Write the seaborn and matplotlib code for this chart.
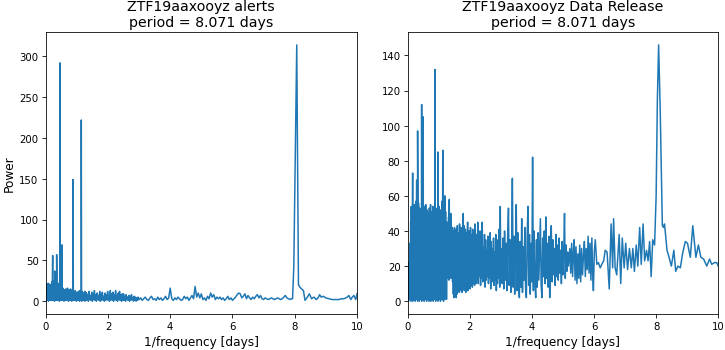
import numpy as np
import pandas as pd
import seaborn as sns
from matplotlib import pyplot as plt

# ---- ZTF19aaxooyz alerts periodogram ----
# dense noise, sampled evenly inside each span
alerts_span_a = (0.0, 1.29)
alerts_noise_a = [20, 2, 21, 1, 19, 3, 22, 0, 18, 2, 21, 1, 20, 4, 17, 1,
                  24, 2, 16, 1, 25, 3, 18, 0, 21, 2, 15, 1, 19, 3, 17, 1, 22, 2, 16, 0, 20, 3, 18, 1,
                  15, 2, 12, 1, 16, 3, 11, 0, 14, 2, 13, 1, 15, 2, 10, 1, 16, 3, 12, 0, 14, 2, 11, 1, 15, 2, 13, 0, 12, 3, 14, 1,
                  12, 2, 9, 1, 13, 2, 10, 0, 11, 3, 8, 1, 12, 2, 10, 0, 13, 1, 9, 2, 11, 0, 12, 3, 10, 1, 9, 2, 12, 0, 11, 1]
alerts_span_b = (1.31, 2.99)
alerts_noise_b = [10, 1, 8, 0, 12, 2, 7, 1, 11, 0, 9, 2, 13, 1, 8, 0, 10, 2, 7, 1, 12, 0, 9, 1, 11, 2, 6, 0, 10, 1, 8, 2,
                  12, 1, 7, 0, 13, 2, 9, 1, 11, 0, 8, 2, 13, 1, 7, 0, 10, 2, 12, 1, 8, 0, 9, 1,
                  9, 1, 6, 0, 8, 2, 5, 1, 7, 0, 6, 1, 8, 2, 4, 0, 6, 1, 5, 0, 4, 1, 5, 2]
alerts_span_c = (3.0, 7.9)
alerts_noise_c = [2, 4, 1, 3, 5, 2, 1, 4, 6, 2, 3, 1, 5, 2, 4, 1, 3, 6, 2,
                  4, 16, 3, 1, 4, 2, 5, 3, 1, 2, 6, 3, 5, 1, 4, 7, 3,
                  18, 5, 10, 4, 9, 2, 4, 1, 6, 3, 10, 5, 8, 2, 5,
                  3, 5, 2, 4, 1, 3, 6, 2, 4, 1, 3, 5, 8,
                  10, 9, 4, 6, 9, 3, 7, 4, 2, 5, 3, 6, 8, 4,
                  7, 3, 2, 4, 3, 2, 3, 4, 3, 2, 3, 4, 3, 2, 3, 5, 7, 4, 3, 2, 3]
alerts_peak_x = [0.225, 0.29, 0.353, 0.46, 0.524, 0.877, 1.144]
alerts_peak_y = [56, 37, 57, 292, 69, 149, 222]
alerts_tail_x = [7.93, 7.97, 8.065, 8.12, 8.17, 8.22, 8.28, 8.33, 8.39, 8.47, 8.54, 8.62, 8.69, 8.75,
                 8.80, 8.85, 8.92, 9.00, 9.10, 9.20, 9.31, 9.42, 9.50, 9.58, 9.69, 9.74, 9.80, 9.85,
                 9.90, 9.96, 10.0]
alerts_tail_y = [3, 42, 314, 20, 17, 15, 13, 1, 4, 9, 3, 5, 2, 4,
                 8, 5, 6, 4, 3, 2, 2, 2, 3, 3, 5, 7, 2, 5,
                 7, 2, 9]

# ---- ZTF19aaxooyz Data Release periodogram ----
release_span_a = (0.0, 1.25)
release_noise_a = [21, 3, 18, 0, 22, 5, 20, 1,
                   33, 2, 45, 0, 54, 1, 38, 3, 55, 0, 42, 2,
                   48, 1, 55, 4, 40, 0, 52, 2, 57, 1, 36, 3, 50, 0, 45, 2, 56, 1, 39, 0, 53, 3, 47, 1, 42, 2,
                   51, 0, 44, 2, 56, 1, 38, 3, 49, 0, 54, 2, 41, 1, 55, 4, 46, 0, 52, 2, 37, 1, 50, 3, 45, 0,
                   53, 2, 40, 1, 55, 0, 47, 3, 51, 1, 38, 2, 54, 0, 44, 4, 49, 1, 56, 2, 42, 0, 50, 3, 46, 1, 53, 2, 39, 0,
                   48, 3, 54, 1, 41, 2, 52, 0, 45, 4, 50, 2, 57, 1, 43, 3, 49, 0, 55, 2, 40, 1, 46, 3, 51, 2, 44, 1]
release_span_b = (1.27, 2.2)
release_noise_b = [45, 13, 40, 15, 48, 12, 38, 16, 44, 14, 50, 13, 39, 15, 42, 11,
                   40, 4, 36, 2, 42, 5, 38, 3, 41, 2, 37, 4, 43, 6,
                   39, 7, 35, 5, 44, 8, 37, 6, 42, 9, 33, 5, 40, 7, 38, 10, 43, 6, 36, 8, 41, 5, 34, 9, 39,
                   7, 45, 6, 37, 10, 40, 8, 35, 7, 42, 9, 38, 11, 33, 8, 41, 10, 36, 12, 39, 9, 44, 11, 35, 10]
release_span_c = (2.22, 3.0)
release_noise_c = [38, 12, 45, 10, 33, 14, 40, 9, 36, 13, 45, 11, 31, 15, 38, 8, 35, 12, 29, 14,
                   37, 10, 32, 13, 39, 7, 34, 11, 30, 15, 36, 9, 28, 12, 38, 6, 33, 10, 35, 13, 41, 8, 54, 11]
release_span_d = (3.02, 5.2)
release_noise_d = [30, 10, 36, 7, 40, 12, 33, 6, 38, 53, 9, 35, 5, 30, 70, 8, 37, 4, 32, 55,
                   6, 39, 10, 2, 34, 8, 47, 5, 31, 12, 42, 7, 2, 36, 54, 9, 38, 4, 33, 11,
                   82, 6, 40, 10, 2, 35, 8, 39, 12, 30, 47, 9, 2, 36, 14, 40, 10, 48, 13, 33,
                   8, 37, 2, 31, 43, 11, 35, 15, 30, 9, 38, 14, 32, 12, 36, 16, 29, 10, 34, 15,
                   28, 50, 13, 32, 17, 28, 20, 26]
release_peak_x = [0.16, 0.29, 0.32, 0.45, 0.50, 0.88, 0.97, 1.13, 1.20, 1.34, 1.79]
release_peak_y = [73, 69, 97, 112, 105, 132, 85, 86, 60, 58, 50]
release_tail_x = [5.22, 5.25, 5.28, 5.31, 5.34, 5.36, 5.39, 5.42, 5.45, 5.48, 5.51, 5.54, 5.57, 5.60,
                  5.63, 5.66, 5.69, 5.72, 5.75, 5.78, 5.81, 5.84, 5.87, 5.90, 5.93, 5.96, 5.98, 6.01,
                  6.04, 6.09, 6.14, 6.20, 6.25, 6.31, 6.36, 6.42, 6.49, 6.55, 6.60, 6.63, 6.68, 6.73,
                  6.81, 6.86, 6.91, 6.97, 7.02, 7.08, 7.14, 7.20, 7.25, 7.30, 7.36, 7.41, 7.47, 7.52,
                  7.58, 7.63, 7.69, 7.74, 7.79, 7.84, 7.89, 7.95, 8.00, 8.04, 8.08, 8.13, 8.20, 8.24,
                  8.27, 8.35, 8.40, 8.49, 8.57, 8.63, 8.70, 8.78, 8.85, 8.94, 9.01, 9.10, 9.18, 9.28,
                  9.36, 9.44, 9.53, 9.63, 9.72, 9.79, 9.88, 9.95, 10.0]
release_tail_y = [30, 16, 33, 14, 29, 35, 12, 31, 10, 27, 13, 32, 11, 30,
                  15, 26, 34, 14, 30, 18, 37, 16, 33, 12, 36, 14, 6, 28,
                  35, 21, 22, 19, 21, 23, 29, 28, 7, 44, 19, 47, 19, 15,
                  38, 10, 36, 19, 33, 18, 30, 19, 30, 17, 32, 20, 42, 21,
                  44, 23, 29, 23, 34, 14, 35, 32, 60, 115, 146, 110, 43, 42,
                  44, 29, 26, 20, 29, 17, 20, 19, 27, 34, 33, 25, 43, 25,
                  32, 25, 24, 20, 24, 21, 22, 22, 20]


def build(spans, noises, extra_x, extra_y):
    xs = [np.linspace(s[0], s[1], len(v)) for s, v in zip(spans, noises)]
    ys = [np.asarray(v, dtype=float) for v in noises]
    x = np.concatenate(xs + [np.asarray(extra_x, dtype=float)])
    y = np.concatenate(ys + [np.asarray(extra_y, dtype=float)])
    df = pd.DataFrame({'period': x, 'power': y})
    return df.sort_values('period').reset_index(drop=True)


alerts_df = build([alerts_span_a, alerts_span_b, alerts_span_c],
                  [alerts_noise_a, alerts_noise_b, alerts_noise_c],
                  alerts_peak_x + alerts_tail_x, alerts_peak_y + alerts_tail_y)
release_df = build([release_span_a, release_span_b, release_span_c, release_span_d],
                   [release_noise_a, release_noise_b, release_noise_c, release_noise_d],
                   release_peak_x + release_tail_x, release_peak_y + release_tail_y)

fig = plt.figure(figsize=(10, 4.84), dpi=72.5)
ax1 = fig.add_axes([0.063, 0.1026, 0.4294, 0.8034])
ax2 = fig.add_axes([0.5623, 0.1026, 0.4284, 0.8034])

titles = ['ZTF19aaxooyz alerts\nperiod = 8.071 days',
          'ZTF19aaxooyz Data Release\nperiod = 8.071 days']

for ax, df, title in zip([ax1, ax2], [alerts_df, release_df], titles):
    sns.lineplot(data=df, x='period', y='power', ax=ax, estimator=None,
                 color='#1f77b4', linewidth=1.5)
    ax.set_xlim(0, 10)
    ax.set_title(title, fontsize=14)
    ax.set_xlabel('1/frequency [days]', fontsize=12)
    ax.set_ylabel('')
    ax.tick_params(labelsize=10)

ax1.set_ylabel('Power', fontsize=12)

fig.savefig('out.png', dpi=72.5)
